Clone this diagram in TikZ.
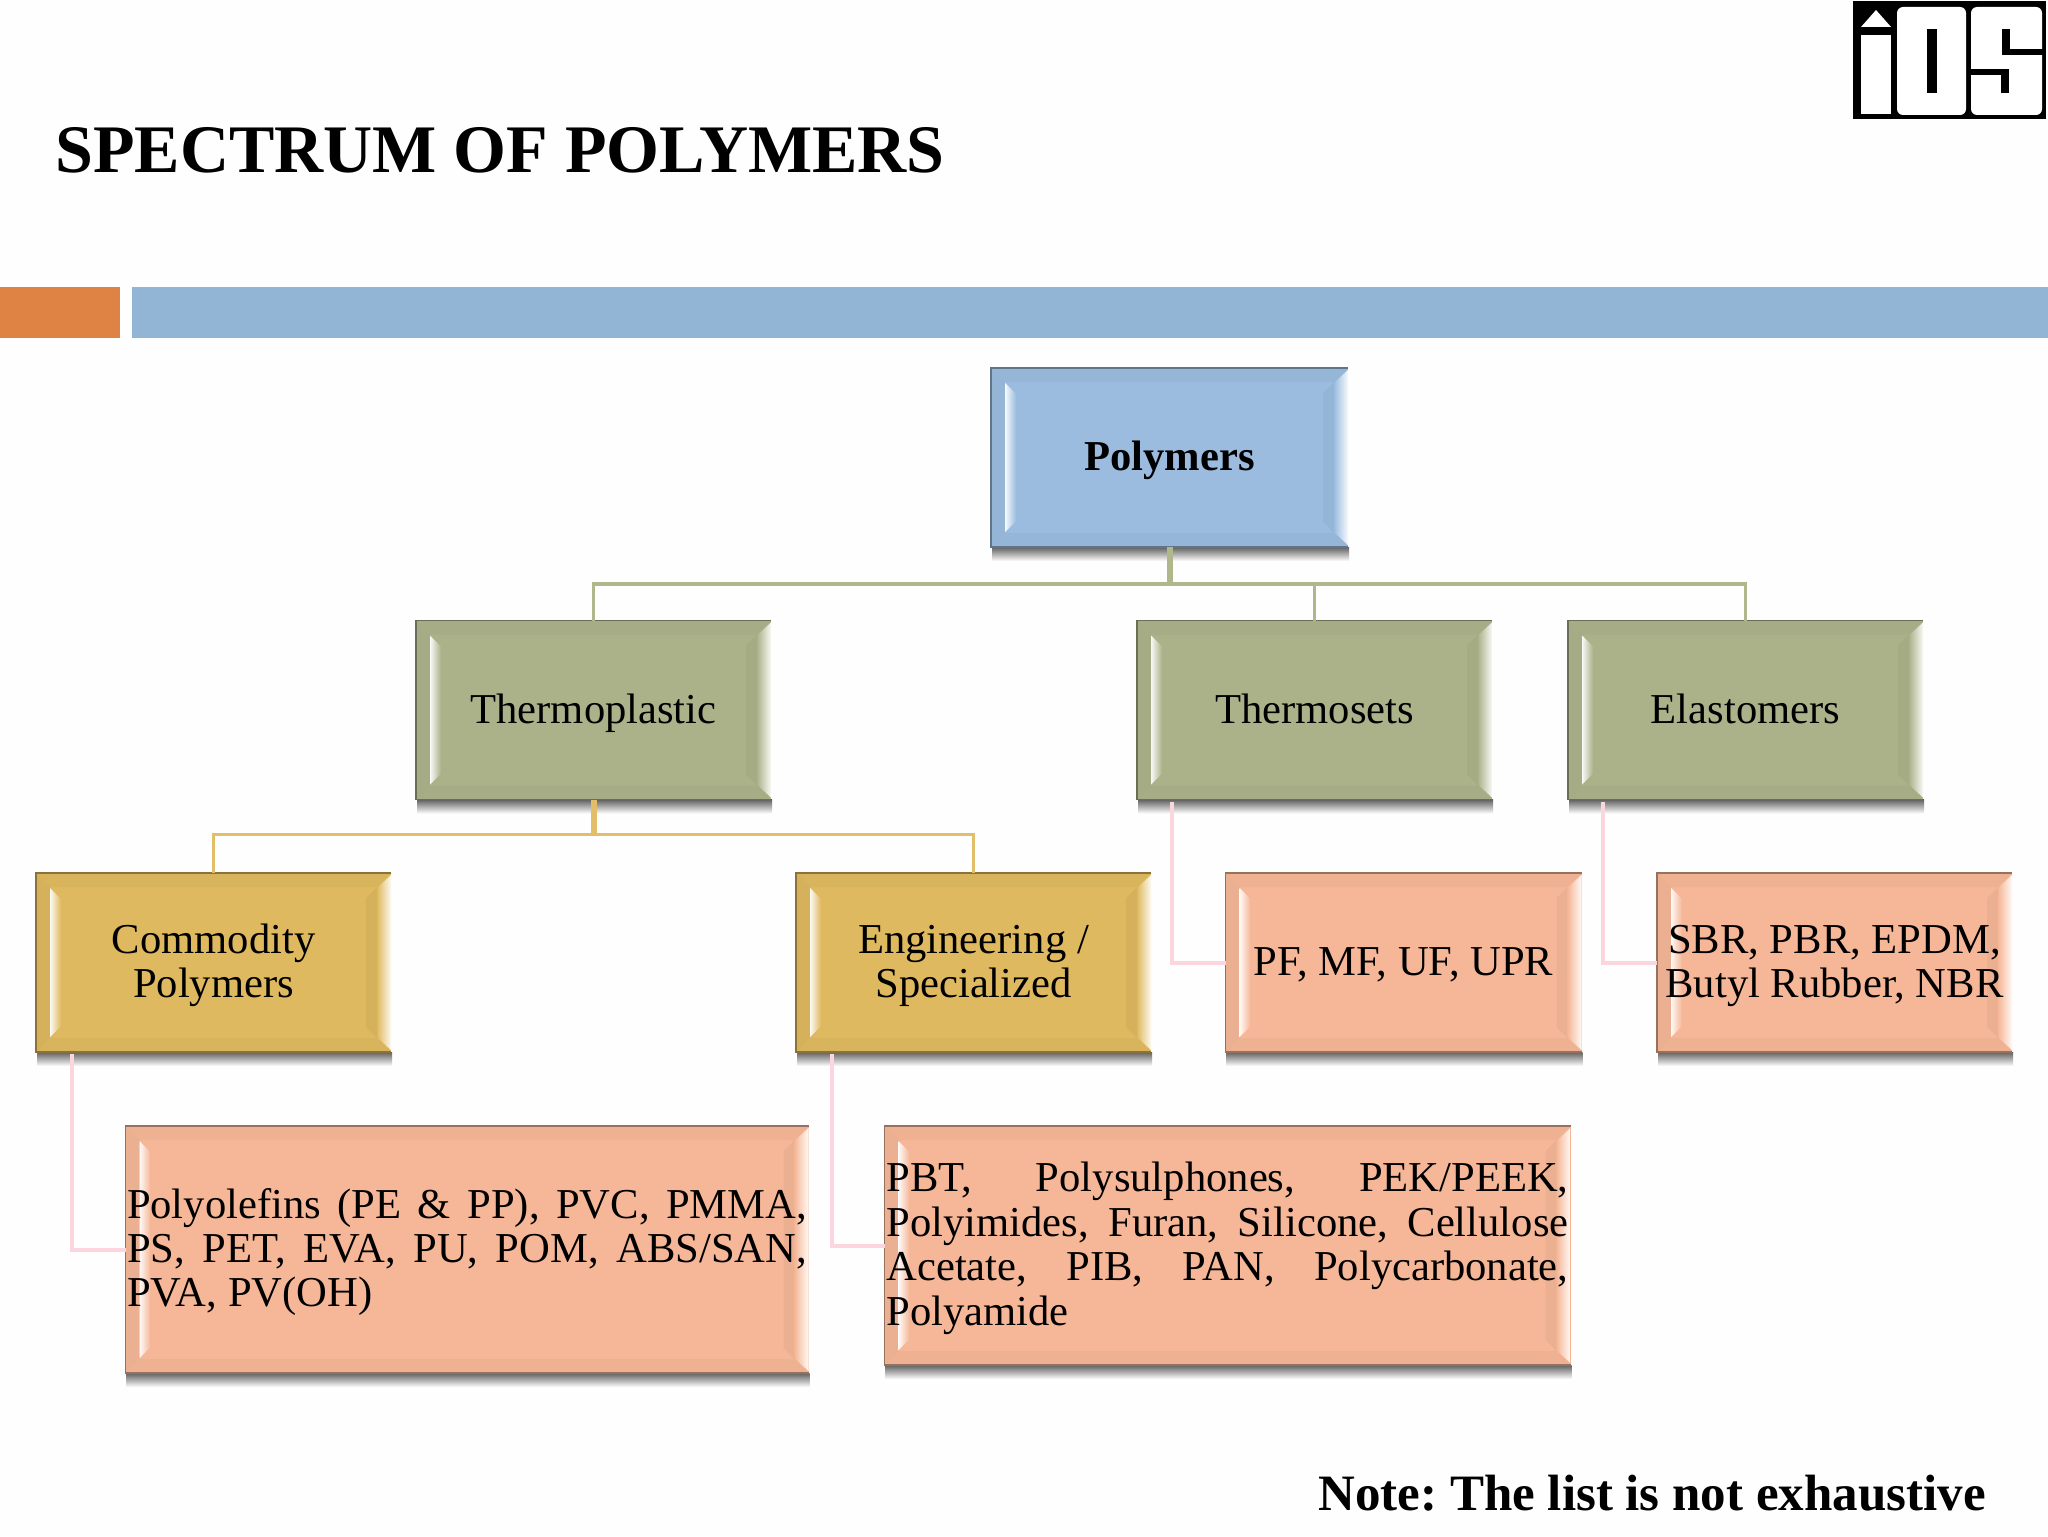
\documentclass[tikz,border=0pt]{standalone}
\usepackage{fontspec}
\setmainfont{Liberation Serif}
\usetikzlibrary{calc}
\tolerance=9999
\hbadness=10000
\frenchspacing
\newcommand{\lstrut}{\rule[-4.6pt]{0pt}{22.2pt}}
\definecolor{bgcol}{HTML}{FEFEFE}
\definecolor{barblue}{HTML}{93B5D5}
\definecolor{barorange}{HTML}{DF8345}
\definecolor{cblue}{HTML}{9BBCDF}
\definecolor{colive}{HTML}{ABB28A}
\definecolor{cgold}{HTML}{DFB95F}
\definecolor{csalmon}{HTML}{F5B797}
\definecolor{linkolive}{HTML}{B0B78C}
\definecolor{linkgold}{HTML}{E2BE68}
\definecolor{linkpink}{HTML}{FCD6DE}
\tikzset{
  x=0.5pt,y=-0.5pt,
  boxtext/.style={inner sep=0pt,outer sep=0pt,text=black,font=\fontsize{21.3}{22.2}\selectfont},
  centred/.style={align=center},
  just/.style={align=justify,text width=#1*0.5pt},
  oliveline/.style={draw=linkolive,line width=1.8pt},
  olivetrunk/.style={draw=linkolive,line width=3pt},
  goldline/.style={draw=linkgold,line width=1.8pt},
  goldtrunk/.style={draw=linkgold,line width=3pt},
  pinkline/.style={draw=linkpink,line width=2pt},
  logoink/.style={fill=black},
  logopaper/.style={fill=white},
}
% name, cx, cy, w, h, colour, node options, text
\newcommand{\bevbox}[8]{%
  \pgfmathsetmacro{\hfw}{#4/2}\pgfmathsetmacro{\hfh}{#5/2}%
  \pgfmathsetmacro{\Lx}{-\hfw}\pgfmathsetmacro{\Ty}{-\hfh}%
  \begin{scope}[shift={(#2,#3)}]
    \shade[top color=black!62!bgcol,bottom color=bgcol] (\Lx+1,\hfh) rectangle (\hfw+1,\hfh+14);
    \fill[#6] (\Lx,\Ty) rectangle (\hfw,\hfh);
    \fill[#6!97!black] (\Lx,\Ty) -- (\hfw,\Ty) -- (\hfw-14,\Ty+14) -- (\Lx+14,\Ty+14) -- cycle;
    \fill[#6!97!black] (\Lx,\hfh) -- (\hfw,\hfh) -- (\hfw-14,\hfh-14) -- (\Lx+14,\hfh-14) -- cycle;
    \fill[#6!96!black] (\Lx,\Ty) -- (\Lx+14,\Ty+14) -- (\Lx+14,\hfh-14) -- (\Lx,\hfh) -- cycle;
    \fill[#6!96!black] (\hfw-14,\Ty+14) -- (\hfw-25,\Ty+25) -- (\hfw-25,\hfh-25) -- (\hfw-14,\hfh-14) -- cycle;
    \shade[left color=#6!8!white,middle color=#6!8!white,right color=#6] (\Lx+14,\Ty+15) -- (\Lx+25,\Ty+26) -- (\Lx+25,\hfh-26) -- (\Lx+14,\hfh-15) -- cycle;
    \shade[left color=#6,middle color=#6!8!white,right color=#6!8!white] (\hfw,\Ty+2) -- (\hfw-14,\Ty+15) -- (\hfw-14,\hfh-15) -- (\hfw,\hfh-2) -- cycle;
    \draw[#6!62!black,line width=0.6pt] (\hfw,\Ty) -- (\Lx,\Ty) -- (\Lx,\hfh) -- (\hfw,\hfh);
  \end{scope}
  \node[boxtext,minimum width=#4*0.5pt,minimum height=#5*0.5pt,#7] (#1) at (#2,#3) {#8};
}
\begin{document}
\begin{tikzpicture}
\useasboundingbox (0,0) rectangle (2048,1536);
\fill[bgcol] (0,0) rectangle (2048,1536);
% title and bars
\node[anchor=base west,inner sep=0pt,font=\fontsize{34}{38}\selectfont\bfseries] (title) at (55,172.5) {SPECTRUM OF POLYMERS};
\fill[barorange] (0,287) rectangle (120,338);
\fill[barblue] (132,287) rectangle (2048,338);
% logo
\fill[logoink] (1853,1) rectangle (2046,119);
\fill[logopaper] (1861,35) rectangle (1891,114);
\fill[logopaper] (1876,10) -- (1891,27) -- (1861,27) -- cycle;
\fill[logopaper,rounded corners=3pt] (1897,7) -- (1966,7) -- (1966,115) -- (1897,115) -- cycle;
\fill[logoink] (1927,29) rectangle (1937,93);
\fill[logopaper,rounded corners=3pt] (1971,7) -- (2042,7) -- (2042,115) -- (1971,115) -- cycle;
\fill[logoink] (2002,29) rectangle (2010,55);
\fill[logoink] (2002,49) rectangle (2043,55);
\fill[logoink] (1970,69) rectangle (2009,75);
\fill[logoink] (2001,69) rectangle (2009,93);
% boxes
\bevbox{poly}{1169.5}{457.5}{357}{179}{cblue}{centred}{\lstrut\bfseries Polymers}
\bevbox{tplastic}{593.5}{710}{355}{179}{colive}{centred}{\lstrut Thermoplastic}
\bevbox{tsets}{1314.5}{710}{355}{179}{colive}{centred}{\lstrut Thermosets}
\bevbox{elast}{1745.5}{710}{355}{179}{colive}{centred}{\lstrut Elastomers}
\bevbox{comm}{213.5}{962.5}{355}{179}{cgold}{centred}{\lstrut Commodity\\\lstrut Polymers}
\bevbox{eng}{973.5}{962.5}{355}{179}{cgold}{centred}{\lstrut Engineering /\\\lstrut Specialized}
\bevbox{pf}{1403.5}{962.5}{356}{179}{csalmon}{centred}{\lstrut PF, MF, UF, UPR}
\bevbox{sbr}{1834.5}{962.5}{355}{179}{csalmon}{centred}{\lstrut SBR, PBR, EPDM,\\\lstrut Butyl Rubber, NBR}
\bevbox{polyo}{467}{1249.5}{683}{247}{csalmon}{just=680}{\lstrut Polyolefins (PE \& PP), PVC, PMMA,\linebreak\lstrut PS, PET, EVA, PU, POM, ABS/SAN,\linebreak\lstrut PVA, PV(OH)}
\bevbox{pbt}{1227.5}{1245.5}{686}{239}{csalmon}{just=682}{\lstrut PBT, Polysulphones, PEK/PEEK,\linebreak\lstrut Polyimides, Furan, Silicone, Cellulose\linebreak\lstrut Acetate, PIB, PAN, Polycarbonate,\linebreak\lstrut Polyamide}
\node[anchor=base west,inner sep=0pt,font=\fontsize{25.5}{30}\selectfont\bfseries] (note) at (1318,1510) {Note: The list is not exhaustive};
% connectors
\coordinate (busa) at ($(poly.south)+(0,37)$);
\coordinate (busb) at ($(tplastic.south)+(0,35)$);
\draw[olivetrunk] (poly.south) -- (busa);
\draw[oliveline] (busa) -| (tplastic.north);
\draw[oliveline] (busa) -| (tsets.north);
\draw[oliveline] (busa) -| (elast.north);
\draw[goldtrunk] (tplastic.south) -- (busb);
\draw[goldline] (busb) -| (comm.north);
\draw[goldline] (busb) -| (eng.north);
\draw[pinkline] ($(tsets.south west)+(35,2)$) |- (pf.west);
\draw[pinkline] ($(elast.south west)+(35,2)$) |- (sbr.west);
\draw[pinkline] ($(comm.south west)+(36,2)$) |- (polyo.west);
\draw[pinkline] ($(eng.south west)+(36,2)$) |- (pbt.west);
\end{tikzpicture}
\end{document}
